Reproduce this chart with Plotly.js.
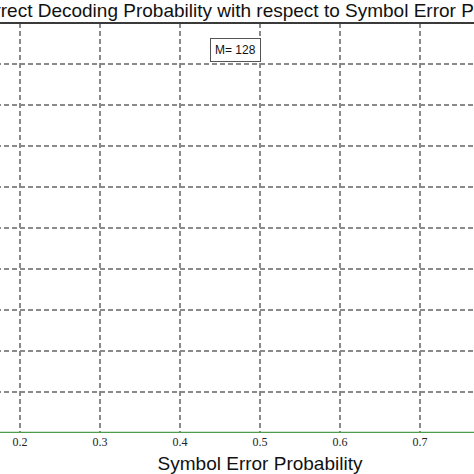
<!DOCTYPE html>
<html>
<head>
<meta charset="utf-8">
<script src="https://cdn.plot.ly/plotly-3.0.1.min.js"></script>
<style>
  html, body { margin: 0; padding: 0; overflow: hidden; background: #fff; }
  #chart { width: 640px; height: 474px; margin-left: -60px; }
</style>
</head>
<body>
<div id="chart"></div>
<script>
// symbol error probability vs correct decoding probability, M = 128
var symbol_error_prob = [0.1, 0.2, 0.3, 0.4, 0.5, 0.6, 0.7, 0.8, 0.9];
var correct_decoding_prob = [0, 0, 0, 0, 0, 0, 0, 0, 0];
var x_tick_vals = [0.2, 0.3, 0.4, 0.5, 0.6, 0.7];
var x_tick_text = ['0.2', '0.3', '0.4', '0.5', '0.6', '0.7'];
var y_tick_vals = [0, 0.1, 0.2, 0.3, 0.4, 0.5, 0.6, 0.7, 0.8, 0.9, 1];
var series_name = 'M= 128';

var CANVAS = document.getElementById('chart');

var m128 = {
    x: symbol_error_prob,
    y: correct_decoding_prob,
    name: series_name,
    type: 'scatter',
    mode: 'lines',
    line: {color: '#4f9c4f', width: 2.5},
    cliponaxis: false,
    showlegend: false
};

var layout = {
    width: 640,
    height: 474,
    paper_bgcolor: '#fff',
    plot_bgcolor: '#fff',
    margin: {l: 0, r: 0, t: 23, b: 41},
    title: {
        text: 'Correct Decoding Probability with respect to Symbol Error Probability',
        font: {family: 'Liberation Sans, Arial, sans-serif', size: 19, color: '#111'},
        x: 0.5,
        xanchor: 'center',
        y: 0.979,
        yanchor: 'middle',
        yref: 'container'
    },
    xaxis: {
        range: [0.1, 0.9],
        tickvals: x_tick_vals,
        ticktext: x_tick_text,
        ticks: '',
        showline: false,
        zeroline: false,
        showgrid: true,
        gridcolor: '#8a8a8a',
        gridwidth: 1.5,
        griddash: '5px,3px',
        tickfont: {family: 'Liberation Serif, Times New Roman, serif', size: 12, color: '#222'},
        automargin: false,
        title: {
            text: 'Symbol Error Probability',
            font: {family: 'Liberation Sans, Arial, sans-serif', size: 19, color: '#111'},
            standoff: 10
        }
    },
    yaxis: {
        range: [0, 1],
        tickvals: y_tick_vals,
        showticklabels: false,
        ticks: '',
        showline: false,
        zeroline: false,
        showgrid: true,
        gridcolor: '#8a8a8a',
        gridwidth: 1.5,
        griddash: '5px,3px',
        automargin: false
    },
    shapes: [{
        type: 'line', xref: 'paper', yref: 'paper',
        x0: 0, x1: 1, y0: 1, y1: 1,
        line: {color: '#3a3a3a', width: 2}
    }],
    annotations: [{
        text: series_name,
        xref: 'paper', yref: 'paper',
        x: 0.422, y: 0.964,
        xanchor: 'left', yanchor: 'top',
        showarrow: false,
        font: {family: 'Liberation Sans, Arial, sans-serif', size: 12, color: '#111'},
        bgcolor: '#fff',
        bordercolor: '#555',
        borderwidth: 1,
        borderpad: 4
    }],
    showlegend: false
};

var config = {staticPlot: true, displayModeBar: false};

Plotly.newPlot(CANVAS, [m128], layout, config);
</script>
</body>
</html>
